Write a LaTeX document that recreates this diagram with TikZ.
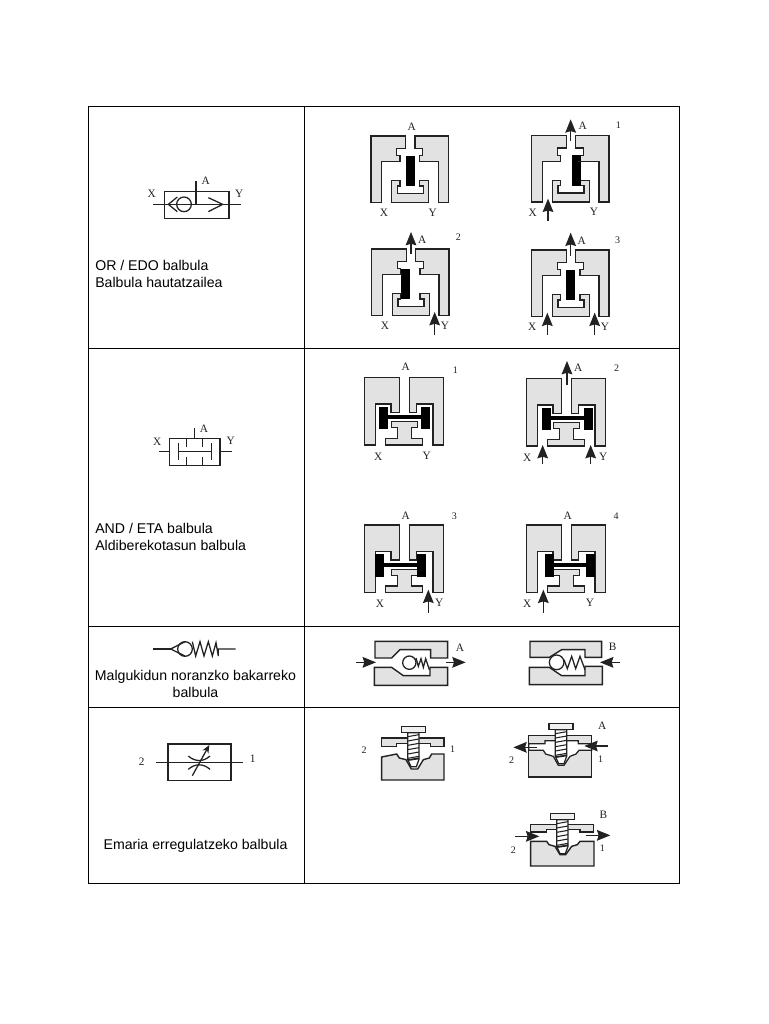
\documentclass[tikz,border=0pt]{standalone}
\usepackage{fontspec}
\setmainfont{Liberation Sans}
\newfontfamily\scanfont{Liberation Serif}
\usetikzlibrary{arrows.meta}
\definecolor{bodygray}{HTML}{E2E2E2}
\definecolor{inkdark}{HTML}{222222}
\tikzset{
  px/.style={x=0.75pt,y=-0.75pt},
  zoomed/.style={x=0.25pt,y=-0.25pt},
  grid line/.style={draw=black,line width=0.75pt},
  body/.style={draw=inkdark,fill=bodygray,line width=1.05pt,line join=miter},
  plain/.style={draw=inkdark,line width=0.95pt},
  sym/.style={draw=inkdark,line width=0.95pt},
  solidblack/.style={fill=black,draw=none},
  flowarrow/.style={draw=inkdark,line width=0.95pt,-{Stealth[length=10pt,width=8pt,inset=1.2pt]}},
  caption/.style={font=\fontsize{10.6}{12.8}\selectfont,inner sep=0pt,align=left,anchor=west},
  vlabel/.style={font=\scanfont\fontsize{8.5}{9}\selectfont,inner sep=0pt,text=inkdark},
  nlabel/.style={font=\scanfont\fontsize{7.5}{8}\selectfont,inner sep=0pt,text=inkdark},
}
% OR valve: top centre (#1,#2), piston offset #3
\newcommand{\orvalve}[3]{%
  \begin{scope}[shift={(#1,#2)}]
    \path[body] (-117,0)--(-13,0)--(-13,37)--(-40,37)--(-40,59)--(-30,59)--(-30,77)--(-85,77)--(-85,199)--(-117,199)--cycle;
    \path[body] (115,0)--(15,0)--(15,37)--(38,37)--(38,59)--(28,59)--(28,77)--(85,77)--(85,199)--(115,199)--cycle;
    \path[body] (-55,199)--(-55,134)--(-30,134)--(-30,150)--(-38,150)--(-38,172)--(40,172)--(40,150)--(28,150)--(28,134)--(56,134)--(56,199)--cycle;
    \fill[solidblack] (-13+#3,59) rectangle (14+#3,150);
  \end{scope}}
% AND valve: top centre (#1,#2), shuttle offset #3
\newcommand{\andvalve}[3]{%
  \begin{scope}[shift={(#1,#2)}]
    \path[body] (-120,0)--(-15,0)--(-15,105)--(-40,105)--(-40,80)--(-86,80)--(-86,203)--(-120,203)--cycle;
    \path[body] (118,0)--(15,0)--(15,105)--(37,105)--(37,80)--(86,80)--(86,203)--(118,203)--cycle;
    \path[body] (-38,133)--(39,133)--(39,151)--(22,151)--(22,183)--(55,183)--(55,203)--(-56,203)--(-56,183)--(-21,183)--(-21,151)--(-38,151)--cycle;
    \begin{scope}[shift={(#3,0)}]
      \fill[solidblack] (-76,88) rectangle (-48,155);
      \fill[solidblack] (49,88) rectangle (76,155);
      \fill[solidblack] (-48,113) rectangle (49,126);
    \end{scope}
  \end{scope}}
% screw: head top centre (#1,#2)
\newcommand{\flowscrew}[2]{%
  \begin{scope}[shift={(#1,#2)}]
    \path[plain,fill=white] (-17,18)--(17,18)--(17,98)--(9,120)--(-7,120)--(-17,98)--cycle;
    \path[plain,fill=bodygray!50] (-36,0) rectangle (36,18);
    \foreach \k in {0,...,5}{\draw[plain,line width=0.8pt] (-17,30+13*\k)--(17,24+13*\k);}
    \fill[inkdark] (-17,98)--(17,92)--(17,98)--(-17,103)--cycle;
  \end{scope}}
\begin{document}
\begin{tikzpicture}[px]
\useasboundingbox (0,0) rectangle (768,1024);
\fill[white] (0,0) rectangle (768,1024);
% table
\draw[grid line] (88,106) rectangle (679,883);
\draw[grid line] (304,106)--(304,883);
\draw[grid line] (88,348.5)--(679,348.5);
\draw[grid line] (88,626)--(679,626);
\draw[grid line] (88,707)--(679,707);
% captions
\node[caption] (capor) at (95,273.5) {OR / EDO balbula\\Balbula hautatzailea};
\node[caption] (capand) at (95,537) {AND / ETA balbula\\Aldiberekotasun balbula};
\node[caption,align=center,anchor=center] (capcheck) at (195.5,683.5) {Malgukidun noranzko bakarreko\\balbula};
\node[caption,anchor=center] (capflow) at (195.5,845.5) {Emaria erregulatzeko balbula};
% OR panel
\begin{scope}[shift={(340,110)},zoomed]
  \orvalve{210}{78}{0}
  \orvalve{692}{77}{16}
  \draw[plain] (714,155)--(778,155);
  \orvalve{212}{417}{-15}
  \orvalve{692}{420}{0}
  \draw[flowarrow] (692,92)--(692,28);
  \draw[flowarrow] (624,333)--(624,266);
  \draw[flowarrow] (213,432)--(213,366);
  \draw[flowarrow] (284,676)--(284,606);
  \draw[flowarrow] (692,437)--(692,368);
  \draw[flowarrow] (622,676)--(622,608);
  \draw[flowarrow] (764,676)--(764,608);
  \node[vlabel] (ora) at (215,50) {A};
  \node[vlabel] (orx) at (132,309) {X};
  \node[vlabel] (ory) at (278,309) {Y};
  \node[vlabel] (ora1) at (728,48) {A};
  \node[vlabel] (orx1) at (578,308) {X};
  \node[vlabel] (ory1) at (762,306) {Y};
  \node[nlabel] (orn1) at (835,47) {1};
  \node[vlabel] (ora2) at (247,388) {A};
  \node[vlabel] (orx2) at (135,648) {X};
  \node[vlabel] (ory2) at (315,648) {Y};
  \node[nlabel] (orn2) at (355,383) {2};
  \node[vlabel] (ora3) at (725,393) {A};
  \node[vlabel] (orx3) at (577,650) {X};
  \node[vlabel] (ory3) at (795,650) {Y};
  \node[nlabel] (orn3) at (833,392) {3};
\end{scope}
% AND panel
\begin{scope}[shift={(340,355)},zoomed]
  \andvalve{193}{67}{0}
  \andvalve{679}{70}{3}
  \andvalve{193}{510}{-12}
  \andvalve{679}{510}{11}
  \draw[flowarrow] (681,90)--(681,18);
  \draw[flowarrow] (608,326)--(608,270);
  \draw[flowarrow] (752,326)--(752,270);
  \draw[flowarrow] (265,773)--(265,704);
  \draw[flowarrow] (610,773)--(610,704);
  \node[vlabel] (anda) at (197,35) {A};
  \node[nlabel] (andn1) at (346,45) {1};
  \node[vlabel] (andx) at (115,305) {X};
  \node[vlabel] (andy) at (260,303) {Y};
  \node[vlabel] (anda2) at (715,38) {A};
  \node[nlabel] (andn2) at (830,40) {2};
  \node[vlabel] (andx2) at (562,308) {X};
  \node[vlabel] (andy2) at (790,305) {Y};
  \node[vlabel] (anda3) at (197,482) {A};
  \node[nlabel] (andn3) at (343,485) {3};
  \node[vlabel] (andx3) at (120,745) {X};
  \node[vlabel] (andy3) at (298,742) {Y};
  \node[vlabel] (anda4) at (683,482) {A};
  \node[nlabel] (andn4) at (828,485) {4};
  \node[vlabel] (andx4) at (562,745) {X};
  \node[vlabel] (andy4) at (750,742) {Y};
\end{scope}
% check and flow panels
\begin{scope}[shift={(340,628)},zoomed]
  % check A
  \path[body] (105,40)--(323,40)--(323,90)--(272,90)--(272,65)--(180,65)--(155,90)--(105,90)--cycle;
  \path[body] (103,118)--(155,118)--(190,143)--(270,143)--(270,118)--(323,118)--(323,172)--(103,172)--cycle;
  \draw[plain,fill=white] (208,104) circle (20);
  \draw[plain] (228,90)--(235,115)--(243,92)--(250,118)--(257,92)--(268,125);
  \draw[flowarrow] (47,103)--(108,103);
  \draw[flowarrow] (318,103)--(377,103);
  \node[vlabel] (cha) at (360,58) {A};
  % check B
  \path[body] (570,40)--(785,40)--(785,88)--(735,88)--(735,65)--(665,65)--(628,88)--(570,88)--cycle;
  \path[body] (568,118)--(628,118)--(665,143)--(735,143)--(735,115)--(787,115)--(787,170)--(568,170)--cycle;
  \draw[plain,fill=white] (650,103) circle (22);
  \draw[plain] (672,95)--(682,122)--(695,85)--(707,122)--(720,85)--(735,125);
  \draw[flowarrow] (840,103)--(780,103);
  \node[vlabel] (chb) at (818,55) {B};
  % flow valve, plain
  \path[body] (125,330)--(312,330)--(312,356)--(272,356)--(272,347)--(170,347)--(170,356)--(125,356)--cycle;
  \path[body] (125,387)--(170,378)--(178,390)--(198,395)--(214,423)--(233,423)--(250,395)--(268,390)--(275,378)--(312,378)--(312,456)--(125,456)--cycle;
  \flowscrew{220}{296}
  \node[nlabel] (fl2) at (72,367) {2};
  \node[nlabel] (fl1) at (338,365) {1};
  % flow valve A
  \path[body] (566,322)--(755,322)--(755,447)--(566,447)--cycle;
  \path[draw=inkdark,fill=white,line width=0.95pt] (566,347)--(615,347)--(615,338)--(715,338)--(715,347)--(755,347)--(755,367)--(717,367)--(708,378)--(690,385)--(672,412)--(655,412)--(640,385)--(617,378)--(610,367)--(566,367)--cycle;
  \flowscrew{663}{287}
  \draw[flowarrow] (805,354)--(733,354);
  \draw[flowarrow] (592,358)--(520,358);
  \node[vlabel] (fla) at (787,292) {A};
  \node[nlabel] (fla2) at (515,398) {2};
  \node[nlabel] (fla1) at (782,395) {1};
  % flow valve B
  \path[body] (572,590)--(760,590)--(760,612)--(720,612)--(720,605)--(620,605)--(620,612)--(572,612)--cycle;
  \path[body] (572,640)--(620,640)--(627,650)--(645,655)--(660,680)--(677,680)--(695,655)--(712,650)--(720,640)--(762,640)--(762,714)--(572,714)--cycle;
  \flowscrew{667}{557}
  \draw[flowarrow] (525,625)--(598,625);
  \draw[flowarrow] (738,622)--(811,622);
  \node[vlabel] (flb) at (790,560) {B};
  \node[nlabel] (flb2) at (520,667) {2};
  \node[nlabel] (flb1) at (787,662) {1};
\end{scope}
% OR symbol
\begin{scope}[shift={(120,160)},zoomed]
  \draw[sym] (133,95) rectangle (327,176);
  \draw[sym] (100,133)--(363,133);
  \draw[sym] (192,133) circle (22);
  \draw[sym] (172,111)--(145,133)--(172,155);
  \draw[sym] (228,62)--(228,133);
  \draw[sym] (265,113)--(308,133)--(265,155);
  \node[vlabel] (sx) at (95,100) {X};
  \node[vlabel] (sa) at (257,62) {A};
  \node[vlabel] (sy) at (358,100) {Y};
\end{scope}
% AND symbol
\begin{scope}[shift={(130,410)},zoomed]
  \draw[sym] (119,85) rectangle (270,167);
  \draw[sym] (88,125)--(119,125);
  \draw[sym] (270,125)--(305,125);
  \draw[sym] (194,55)--(194,85);
  \draw[sym] (170,85)--(170,112);
  \draw[sym] (217,85)--(217,112);
  \draw[sym] (170,142)--(170,167);
  \draw[sym] (217,142)--(217,167);
  \draw[sym] (145,125)--(245,125);
  \draw[sym] (145,100)--(145,150);
  \draw[sym] (245,100)--(245,150);
  \node[vlabel] (tx) at (82,95) {X};
  \node[vlabel] (ta) at (222,55) {A};
  \node[vlabel] (ty) at (302,92) {Y};
\end{scope}
% check symbol
\begin{scope}[shift={(130,630)},zoomed]
  \draw[sym] (70,57)--(122,57);
  \draw[sym] (165,35)--(122,57)--(165,78);
  \draw[sym] (165,57) circle (22);
  \draw[sym] (187,35)--(197,78)--(210,35)--(222,78)--(235,35)--(247,78)--(258,38)--(265,78)--(265,57)--(317,57);
\end{scope}
% flow symbol
\begin{scope}[shift={(120,730)},zoomed]
  \draw[sym] (144,42) rectangle (333,152);
  \draw[sym] (108,98)--(368,98);
  \draw[sym] (205,78) .. controls (225,96) and (250,96) .. (270,78);
  \draw[sym] (205,118) .. controls (225,100) and (250,100) .. (270,118);
  \draw[sym,-{Stealth[length=6pt,width=5pt]}] (217,137)--(268,45);
  \node[vlabel] (u2) at (65,95) {2};
  \node[vlabel] (u1) at (398,87) {1};
\end{scope}
\end{tikzpicture}
\end{document}
